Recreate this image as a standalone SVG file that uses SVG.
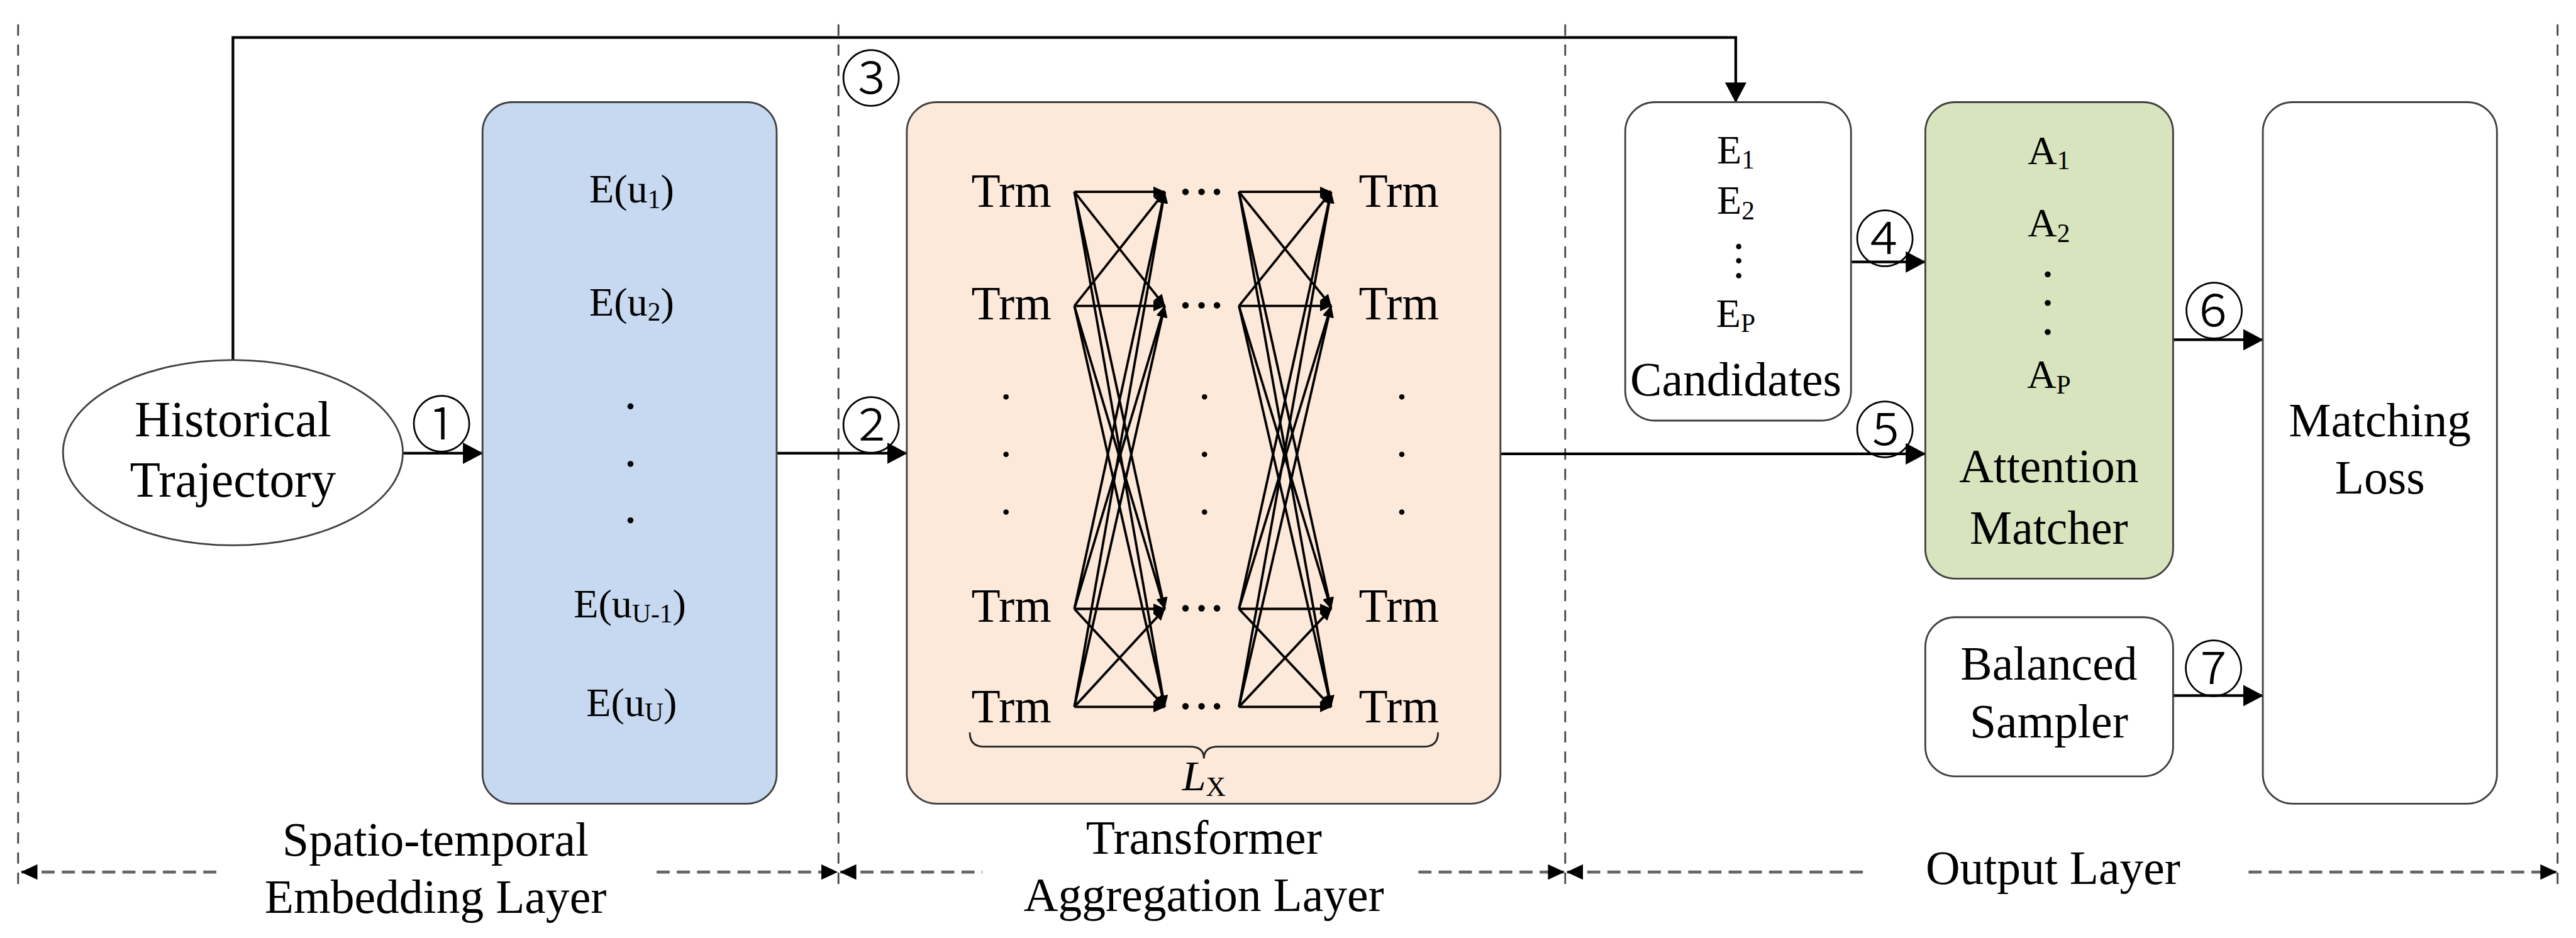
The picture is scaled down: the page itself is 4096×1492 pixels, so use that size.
<svg xmlns="http://www.w3.org/2000/svg" width="4096" height="1492" viewBox="0 0 4096 1492">
<style>
text{font-family:"Liberation Serif","Times New Roman",serif;fill:#000}
.big{font-size:80px;text-anchor:middle}
.ell{font-size:84px;text-anchor:middle}
.mid{font-size:68px;text-anchor:middle}
.sub{font-size:44px}
.num{font-family:"Noto Sans CJK SC","DejaVu Sans",sans-serif;font-size:104px;font-weight:300;text-anchor:middle;dominant-baseline:central}
.box{stroke:#404040;stroke-width:3}
.conn{fill:none;stroke:#000;stroke-width:4.5}
.net{fill:none;stroke:#000;stroke-width:4;marker-end:url(#sa)}
.sep{fill:none;stroke:#444;stroke-width:3;stroke-dasharray:19 15}
.dim{fill:none;stroke:#666;stroke-width:5;stroke-dasharray:22 12}
.dot{fill:#000}
</style>
<defs>
<marker id="arr" markerUnits="userSpaceOnUse" markerWidth="34" markerHeight="36" viewBox="0 0 34 36" refX="33" refY="18" orient="auto"><path d="M0 0L34 18L0 36z" fill="#000"/></marker>
<marker id="sa" markerUnits="userSpaceOnUse" markerWidth="20" markerHeight="18" viewBox="0 0 20 18" refX="19" refY="9" orient="auto"><path d="M0 0L20 9L0 18z" fill="#000"/></marker>
<marker id="da" markerUnits="userSpaceOnUse" markerWidth="28" markerHeight="26" viewBox="0 0 28 26" refX="27" refY="13" orient="auto-start-reverse"><path d="M0 0L28 13L0 26z" fill="#000"/></marker>
</defs>
<rect width="4096" height="1492" fill="#fff"/>
<g transform="scale(0.944867)">

<g id="separators">
<path class="sep" d="M30.5 41V1496"/>
<path class="sep" d="M1411 41V1496"/>
<path class="sep" d="M2634 41V1496"/>
<path class="sep" d="M4304 41V1496"/>
</g>

<g id="layer-dimensions">
<path class="dim" d="M36 1468H370" marker-start="url(#da)"/>
<path class="dim" d="M1105 1468H1409" marker-end="url(#da)"/>
<path class="dim" d="M1414 1468H1653" marker-start="url(#da)"/>
<path class="dim" d="M2387 1468H2632" marker-end="url(#da)"/>
<path class="dim" d="M2637 1468H3142" marker-start="url(#da)"/>
<path class="dim" d="M3784 1468H4302" marker-end="url(#da)"/>
<text class="big" x="733" y="1440">Spatio-temporal</text>
<text class="big" x="733" y="1537">Embedding Layer</text>
<text class="big" x="2026" y="1437">Transformer</text>
<text class="big" x="2026" y="1534">Aggregation Layer</text>
<text class="big" x="3455" y="1488">Output Layer</text>
</g>

<g id="connectors">
<path class="conn" d="M392 606V63H2921V172" marker-end="url(#arr)"/>
<path class="conn" d="M678 763H812" marker-end="url(#arr)"/>
<path class="conn" d="M1307 763H1526" marker-end="url(#arr)"/>
<path class="conn" d="M2525 764H3240" marker-end="url(#arr)"/>
<path class="conn" d="M3115 441H3240" marker-end="url(#arr)"/>
<path class="conn" d="M3657 572H3808" marker-end="url(#arr)"/>
<path class="conn" d="M3657 1171H3808" marker-end="url(#arr)"/>
<text class="num" x="743" y="707">①</text>
<text class="num" x="1466" y="709">②</text>
<text class="num" x="1466" y="125">③</text>
<text class="num" x="3172" y="395">④</text>
<text class="num" x="3172" y="717">⑤</text>
<text class="num" x="3726" y="517">⑥</text>
<text class="num" x="3725" y="1119">⑦</text>
</g>

<g id="historical-trajectory">
<ellipse cx="392" cy="762" rx="286" ry="156" fill="#fff" class="box"/>
<text class="ell" x="392" y="735">Historical</text>
<text class="ell" x="392" y="836">Trajectory</text>
</g>

<g id="embedding-layer">
<rect x="812" y="172" width="495" height="1181" rx="50" fill="#c6d9f0" class="box"/>
<text class="mid" x="1063" y="341">E(u<tspan class="sub" dy="9">1</tspan><tspan dy="-9">)</tspan></text>
<text class="mid" x="1063" y="531">E(u<tspan class="sub" dy="9">2</tspan><tspan dy="-9">)</tspan></text>
<circle class="dot" cx="1061" cy="684" r="5"/>
<circle class="dot" cx="1061" cy="781" r="5"/>
<circle class="dot" cx="1061" cy="876" r="5"/>
<text class="mid" x="1060" y="1039">E(u<tspan class="sub" dy="9">U-1</tspan><tspan dy="-9">)</tspan></text>
<text class="mid" x="1063" y="1205">E(u<tspan class="sub" dy="9">U</tspan><tspan dy="-9">)</tspan></text>
</g>

<g id="transformer-layer">
<rect x="1526" y="172" width="999" height="1181" rx="50" fill="#fde9d9" class="box"/>
<text class="big" x="1702" y="348">Trm</text>
<text class="big" x="1702" y="538">Trm</text>
<text class="big" x="1702" y="1047">Trm</text>
<text class="big" x="1702" y="1216">Trm</text>
<text class="big" x="2354" y="348">Trm</text>
<text class="big" x="2354" y="538">Trm</text>
<text class="big" x="2354" y="1047">Trm</text>
<text class="big" x="2354" y="1216">Trm</text>
<g id="bundle-1">
<path class="net" d="M1808 323L1960 323"/><path class="net" d="M1808 323L1960 515"/><path class="net" d="M1808 323L1960 1025"/><path class="net" d="M1808 323L1960 1190"/>
<path class="net" d="M1808 515L1960 323"/><path class="net" d="M1808 515L1960 515"/><path class="net" d="M1808 515L1960 1025"/><path class="net" d="M1808 515L1960 1190"/>
<path class="net" d="M1808 1025L1960 323"/><path class="net" d="M1808 1025L1960 515"/><path class="net" d="M1808 1025L1960 1025"/><path class="net" d="M1808 1025L1960 1190"/>
<path class="net" d="M1808 1190L1960 323"/><path class="net" d="M1808 1190L1960 515"/><path class="net" d="M1808 1190L1960 1025"/><path class="net" d="M1808 1190L1960 1190"/>
</g>
<g id="bundle-2">
<path class="net" d="M2085 323L2240 323"/><path class="net" d="M2085 323L2240 515"/><path class="net" d="M2085 323L2240 1025"/><path class="net" d="M2085 323L2240 1190"/>
<path class="net" d="M2085 515L2240 323"/><path class="net" d="M2085 515L2240 515"/><path class="net" d="M2085 515L2240 1025"/><path class="net" d="M2085 515L2240 1190"/>
<path class="net" d="M2085 1025L2240 323"/><path class="net" d="M2085 1025L2240 515"/><path class="net" d="M2085 1025L2240 1025"/><path class="net" d="M2085 1025L2240 1190"/>
<path class="net" d="M2085 1190L2240 323"/><path class="net" d="M2085 1190L2240 515"/><path class="net" d="M2085 1190L2240 1025"/><path class="net" d="M2085 1190L2240 1190"/>
</g>
<g id="ellipses">
<circle class="dot" cx="1995" cy="323" r="5.5"/><circle class="dot" cx="2022" cy="323" r="5.5"/><circle class="dot" cx="2048" cy="323" r="5.5"/>
<circle class="dot" cx="1995" cy="514" r="5.5"/><circle class="dot" cx="2022" cy="514" r="5.5"/><circle class="dot" cx="2048" cy="514" r="5.5"/>
<circle class="dot" cx="1995" cy="1024" r="5.5"/><circle class="dot" cx="2022" cy="1024" r="5.5"/><circle class="dot" cx="2048" cy="1024" r="5.5"/>
<circle class="dot" cx="1995" cy="1189" r="5.5"/><circle class="dot" cx="2022" cy="1189" r="5.5"/><circle class="dot" cx="2048" cy="1189" r="5.5"/>
<circle class="dot" cx="1693" cy="668" r="4.5"/><circle class="dot" cx="1693" cy="765" r="4.5"/><circle class="dot" cx="1693" cy="862" r="4.5"/>
<circle class="dot" cx="2027" cy="668" r="4.5"/><circle class="dot" cx="2027" cy="765" r="4.5"/><circle class="dot" cx="2027" cy="862" r="4.5"/>
<circle class="dot" cx="2359" cy="668" r="4.5"/><circle class="dot" cx="2359" cy="765" r="4.5"/><circle class="dot" cx="2359" cy="862" r="4.5"/>
</g>
<path d="M1632 1233Q1632 1257 1656 1257H2002Q2026 1257 2026 1277Q2026 1257 2050 1257H2396Q2420 1257 2420 1233" fill="none" stroke="#222" stroke-width="3"/>
<text x="2026" y="1330" style="font-size:72px;text-anchor:middle"><tspan font-style="italic">L</tspan><tspan style="font-size:46px" dy="10">X</tspan></text>
</g>

<g id="candidates">
<rect x="2735" y="172" width="380" height="536" rx="50" fill="#fff" class="box"/>
<text class="mid" x="2921" y="275">E<tspan class="sub" dy="9">1</tspan></text>
<text class="mid" x="2921" y="360">E<tspan class="sub" dy="9">2</tspan></text>
<circle class="dot" cx="2926" cy="415" r="4.5"/>
<circle class="dot" cx="2926" cy="439" r="4.5"/>
<circle class="dot" cx="2926" cy="464" r="4.5"/>
<text class="mid" x="2921" y="550">E<tspan class="sub" dy="9">P</tspan></text>
<text class="big" x="2921" y="666">Candidates</text>
</g>

<g id="attention-matcher">
<rect x="3240" y="172" width="417" height="802" rx="50" fill="#d7e4bd" class="box"/>
<text class="mid" x="3448" y="276">A<tspan class="sub" dy="9">1</tspan></text>
<text class="mid" x="3448" y="398">A<tspan class="sub" dy="9">2</tspan></text>
<circle class="dot" cx="3446" cy="462" r="5"/>
<circle class="dot" cx="3446" cy="510" r="5"/>
<circle class="dot" cx="3446" cy="559" r="5"/>
<text class="mid" x="3448" y="653">A<tspan class="sub" dy="9">P</tspan></text>
<text class="big" x="3448" y="812">Attention</text>
<text class="big" x="3448" y="916">Matcher</text>
</g>

<g id="balanced-sampler">
<rect x="3240" y="1039" width="417" height="268" rx="50" fill="#fff" class="box"/>
<text class="big" x="3448" y="1144">Balanced</text>
<text class="big" x="3448" y="1241">Sampler</text>
</g>

<g id="matching-loss">
<rect x="3808" y="172" width="394" height="1181" rx="50" fill="#fff" class="box"/>
<text class="big" x="4005" y="735">Matching</text>
<text class="big" x="4005" y="831">Loss</text>
</g>

</g>
</svg>
